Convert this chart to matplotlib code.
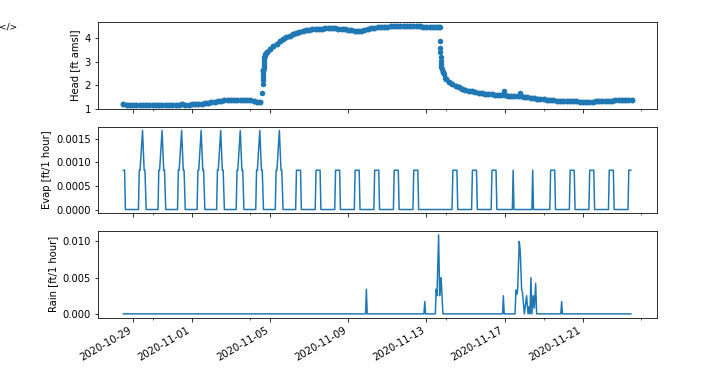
import pandas as pd
import matplotlib
matplotlib.use("Agg")
import matplotlib.pyplot as plt
import matplotlib.dates as mdates
from matplotlib.ticker import FixedLocator

# --- Head: 4-hourly readings starting 2020-10-28 12:00 ---
head_start = "2020-10-28 12:00"
head_ft = [
    1.18, 1.17, 1.17,                      # 10-28 (12h, 16h, 20h)
    1.16, 1.16, 1.17, 1.17, 1.16, 1.15,    # 10-29
    1.15, 1.16, 1.17, 1.16, 1.16, 1.15,    # 10-30
    1.16, 1.16, 1.17, 1.18, 1.17, 1.17,    # 10-31
    1.18, 1.19, 1.20, 1.22, 1.25, 1.26,    # 11-01
    1.27, 1.29, 1.31, 1.34, 1.36, 1.37,    # 11-02
    1.38, 1.39, 1.39, 1.38, 1.38, 1.37,    # 11-03
    1.35, 1.33, 1.30, 1.28, 2.62, 3.42,    # 11-04
    3.55, 3.65, 3.75, 3.86, 3.95, 4.03,    # 11-05
    4.10, 4.17, 4.22, 4.26, 4.31, 4.33,    # 11-06
    4.35, 4.37, 4.38, 4.39, 4.39, 4.40,    # 11-07
    4.40, 4.40, 4.40, 4.39, 4.38, 4.37,    # 11-08
    4.35, 4.32, 4.30, 4.29, 4.31, 4.34,    # 11-09
    4.37, 4.40, 4.43, 4.45, 4.46, 4.47,    # 11-10
    4.48, 4.49, 4.49, 4.49, 4.50, 4.50,    # 11-11
    4.50, 4.50, 4.49, 4.49, 4.49, 4.48,    # 11-12
    4.48, 4.47, 4.47, 4.46, 4.45, 2.55,    # 11-13
    2.27, 2.13, 2.04, 1.96, 1.90, 1.85,    # 11-14
    1.81, 1.77, 1.73, 1.70, 1.68, 1.65,    # 11-15
    1.63, 1.62, 1.61, 1.60, 1.58, 1.57,    # 11-16
    1.56, 1.55, 1.55, 1.54, 1.53, 1.52,    # 11-17
    1.51, 1.49, 1.47, 1.45, 1.43, 1.42,    # 11-18
    1.40, 1.38, 1.36, 1.35, 1.34, 1.33,    # 11-19
    1.32, 1.32, 1.31, 1.31, 1.31, 1.30,    # 11-20
    1.30, 1.30, 1.30, 1.30, 1.31, 1.31,    # 11-21
    1.32, 1.32, 1.33, 1.34, 1.35, 1.36,    # 11-22
    1.37, 1.37, 1.38, 1.38,                # 11-23
]
# extra readings around the fast rise / fall
head_fast_time = [
    "2020-11-04 14:30", "2020-11-04 15:10", "2020-11-04 15:20", "2020-11-04 15:35",
    "2020-11-04 15:45", "2020-11-04 15:55", "2020-11-04 16:05", "2020-11-04 16:15",
    "2020-11-04 16:25", "2020-11-04 16:40", "2020-11-04 17:00", "2020-11-04 17:30",
    "2020-11-04 18:00", "2020-11-04 19:00",
    "2020-11-13 16:40", "2020-11-13 16:50", "2020-11-13 17:00", "2020-11-13 17:10",
    "2020-11-13 17:25", "2020-11-13 17:40", "2020-11-13 18:00", "2020-11-13 18:30",
    "2020-11-13 19:00", "2020-11-13 21:00", "2020-11-13 22:50",
    "2020-11-16 23:00", "2020-11-17 19:00",
]
head_fast_ft = [
    1.67, 2.06, 2.23, 2.35, 2.48, 2.60, 2.72, 2.85, 2.98, 3.10, 3.18, 3.25, 3.30, 3.37,
    4.45, 3.86, 3.56, 3.39, 3.20, 3.02, 2.88, 2.76, 2.67, 2.45, 2.32,
    1.74, 1.68,
]

# --- Evaporation: hourly shape of each day type (hour of day, ft/hour) ---
evap_profiles = {
    "start": ([12.0, 13.5, 14.5], [0.00083, 0.00083, 0.0]),
    "peak": ([6.5, 7.5, 8.5, 11.5, 13.5, 14.5, 16.0],
             [0.0, 0.00083, 0.00083, 0.00167, 0.00083, 0.00083, 0.0]),
    "plain": ([7.5, 8.5, 13.5, 14.5], [0.0, 0.00083, 0.00083, 0.0]),
    "thin": ([9.5, 10.5, 11.5], [0.0, 0.00083, 0.0]),
    "end": ([7.5, 8.5, 11.0], [0.0, 0.00083, 0.00083]),
}
evap_first_day = "2020-10-28"
evap_kind = [
    "start",                                                         # 10-28
    "peak", "peak", "peak", "peak", "peak", "peak", "peak", "peak",  # 10-29 .. 11-05
    "plain", "plain", "plain", "plain", "plain", "plain", "plain",   # 11-06 .. 11-12
    "none",                                                          # 11-13
    "plain", "plain", "plain",                                       # 11-14 .. 11-16
    "thin", "thin",                                                  # 11-17, 11-18
    "plain", "plain", "plain", "plain",                              # 11-19 .. 11-22
    "end",                                                           # 11-23
]

# --- Rain ---
rain_time = [
    "2020-10-28 12:00",
    "2020-11-09 21:20", "2020-11-09 22:20", "2020-11-09 23:20",
    "2020-11-12 21:00", "2020-11-12 22:00", "2020-11-12 23:00",
    "2020-11-13 11:00", "2020-11-13 12:00", "2020-11-13 13:00", "2020-11-13 15:00",
    "2020-11-13 16:15", "2020-11-13 17:30", "2020-11-13 18:15", "2020-11-13 20:15",
    "2020-11-16 21:30", "2020-11-16 22:30", "2020-11-16 23:30",
    "2020-11-17 12:45", "2020-11-17 14:00", "2020-11-17 15:10", "2020-11-17 16:00",
    "2020-11-17 18:00", "2020-11-17 19:10", "2020-11-17 20:55", "2020-11-17 22:00",
    "2020-11-18 00:15", "2020-11-18 03:00", "2020-11-18 04:50", "2020-11-18 06:00",
    "2020-11-18 07:10", "2020-11-18 08:20", "2020-11-18 09:35", "2020-11-18 11:15",
    "2020-11-18 12:30", "2020-11-18 14:10", "2020-11-18 15:20",
    "2020-11-19 21:00", "2020-11-19 22:00", "2020-11-19 23:00",
    "2020-11-23 11:00",
]
rain_ft = [
    0.0,
    0.0, 0.0034, 0.0,
    0.0, 0.0017, 0.0,
    0.0, 0.0034, 0.0025, 0.0109,
    0.0025, 0.0050, 0.0047, 0.0,
    0.0, 0.0025, 0.0,
    0.0, 0.0033, 0.0027, 0.0033,
    0.0100, 0.0087, 0.0034, 0.0029,
    0.0, 0.0025, 0.0, 0.0010,
    0.0, 0.0050, 0.0, 0.0025,
    0.0008, 0.0042, 0.0,
    0.0, 0.0017, 0.0,
    0.0,
]

minor_tick_dates = ["2020-10-30", "2020-11-04", "2020-11-09",
                    "2020-11-14", "2020-11-19", "2020-11-24"]

# build series
head_time = pd.date_range(head_start, periods=len(head_ft), freq="4h")
evap_t, evap_v = [], []
for day, kind in zip(pd.date_range(evap_first_day, periods=len(evap_kind), freq="D"), evap_kind):
    if kind == "none":
        continue
    hours, vals = evap_profiles[kind]
    for h, v in zip(hours, vals):
        evap_t.append(day + pd.Timedelta(hours=h))
        evap_v.append(v)

fig, (ax1, ax2, ax3) = plt.subplots(3, 1, sharex=True, figsize=(715 / 72, 382 / 72), dpi=72)
fig.subplots_adjust(left=0.137, right=0.919, top=0.942, bottom=0.168, hspace=0.2)

ax1.plot(head_time, head_ft, "o", ms=6, mew=0, color="C0")
ax1.plot(pd.to_datetime(head_fast_time), head_fast_ft, "o", ms=5.5, mew=0, color="C0")
ax1.set_ylabel("Head [ft amsl]")

ax2.plot(evap_t, evap_v, color="C0")
ax2.set_ylabel("Evap [ft/1 hour]")

ax3.plot(pd.to_datetime(rain_time), rain_ft, color="C0")
ax3.set_ylabel("Rain [ft/1 hour]")

ax3.xaxis.set_major_locator(mdates.DayLocator(bymonthday=[1, 5, 9, 13, 17, 21, 25, 29]))
ax3.xaxis.set_major_formatter(mdates.DateFormatter("%Y-%m-%d"))
ax3.xaxis.set_minor_locator(FixedLocator(mdates.date2num(pd.to_datetime(minor_tick_dates))))
for lbl in ax3.get_xticklabels():
    lbl.set_rotation(30)
    lbl.set_ha("right")

fig.text(-0.002, 1 - 27 / 382, "</>", fontsize=9, ha="left", va="center")

fig.savefig("out.png", dpi=72)
